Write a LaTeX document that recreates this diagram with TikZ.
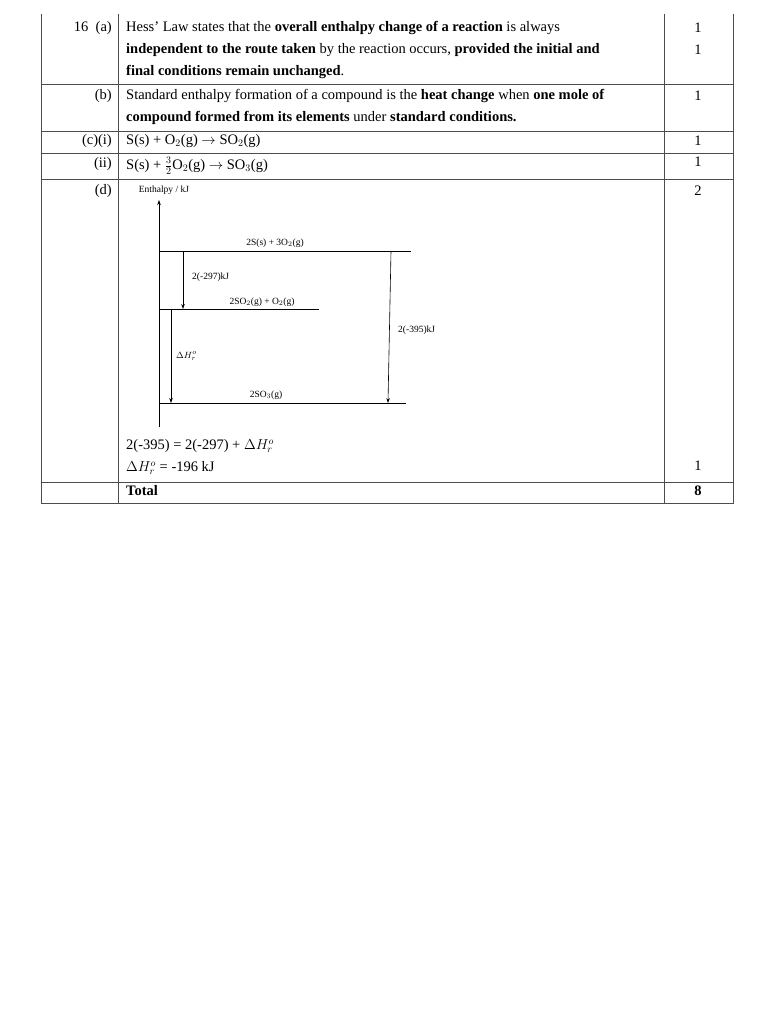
\documentclass[tikz,border=0pt]{standalone}
\usepackage{fontspec}
\setmainfont{Liberation Serif}
\usetikzlibrary{arrows.meta}
\begin{document}
\begin{tikzpicture}[x=1pt,y=-1pt,
  rule/.style={line width=0.6pt,black!70},
  txt/.style={anchor=west,inner sep=0pt,font=\fontsize{14.5}{16}\selectfont},
  mk/.style={inner sep=0pt,font=\fontsize{14.5}{16}\selectfont},
  sm/.style={inner sep=0pt,font=\fontsize{9.5}{11}\selectfont},
  lvl/.style={line width=0.6pt},
  arr/.style={line width=0.6pt,-{Stealth[length=5pt,width=3.5pt]}}]
\useasboundingbox (0,0) rectangle (768,1024);
% table
\draw[rule] (41,14) -- (41,503) -- (733,503) -- (733,14);
\draw[rule] (118,14) -- (118,503);
\draw[rule] (664,14) -- (664,503);
\foreach \y in {84,131,153,179,482} \draw[rule] (41,\y) -- (733,\y);
% labels column 1
\node[mk,anchor=east] (la) at (112,28) {16\ \ (a)};
\node[mk,anchor=east] (lb) at (112,96) {(b)};
\node[mk,anchor=east] (lc) at (112,141) {(c)(i)};
\node[mk,anchor=east] (lii) at (112,164) {(ii)};
\node[mk,anchor=east] (ld) at (112,191) {(d)};
% text
\node[txt] (a1) at (126,28) {Hess' Law states that the \textbf{overall enthalpy change of a reaction} is always};
\node[txt] (a2) at (126,50) {\textbf{independent to the route taken} by the reaction occurs, \textbf{provided the initial and}};
\node[txt] (a3) at (126,72) {\textbf{final conditions remain unchanged}.};
\node[txt] (b1) at (126,96) {Standard enthalpy formation of a compound is the \textbf{heat change} when \textbf{one mole of}};
\node[txt] (b2) at (126,118) {\textbf{compound formed from its elements} under \textbf{standard conditions.}};
\node[txt] (c1) at (126,141) {S(s) + O$_2$(g) $\rightarrow$ SO$_2$(g)};
\node[txt] (c2) at (126,166) {S(s) + $\frac{3}{2}$O$_2$(g) $\rightarrow$ SO$_3$(g)};
% marks
\foreach \n/\y/\t in {m1/28/1,m2/50/1,m3/96/1,m4/141/1,m5/162/1,m6/191/2,m7/466/1} \node[mk] (\n) at (698,\y) {\t};
\node[mk] (m8) at (698,491) {\textbf{8}};
% diagram
\node[sm] (ylab) at (164,190) {Enthalpy / kJ};
\coordinate (ax0) at (159,427);
\coordinate (ax1) at (159,200);
\draw[arr] (ax0) -- (ax1);
\coordinate (l1a) at (159,251); \coordinate (l1b) at (411,251);
\coordinate (l2a) at (159,309); \coordinate (l2b) at (319,309);
\coordinate (l3a) at (159,403); \coordinate (l3b) at (406,403);
\draw[lvl] (l1a) -- (l1b);
\draw[lvl] (l2a) -- (l2b);
\draw[lvl] (l3a) -- (l3b);
\node[sm] (t1) at (275,243) {2S(s) + 3O$_2$(g)};
\node[sm] (t2) at (262,302) {2SO$_2$(g) + O$_2$(g)};
\node[sm] (t3) at (266,395) {2SO$_3$(g)};
\coordinate (a1s) at (183,251); \coordinate (a1e) at (183,309);
\coordinate (a2s) at (171,309); \coordinate (a2e) at (171,403);
\coordinate (a3s) at (391,251); \coordinate (a3e) at (388,403);
\draw[arr] (a1s) -- (a1e);
\draw[arr] (a2s) -- (a2e);
\draw[arr] (a3s) -- (a3e);
\node[sm,anchor=west] (e1) at (192,277) {2(-297)kJ};
\node[sm,anchor=west] (e2) at (176,356) {$\Delta H_r^o$};
\node[sm,anchor=west] (e3) at (398,330) {2(-395)kJ};
\node[txt] (q1) at (126,446) {2(-395) = 2(-297) + $\Delta H_r^o$};
\node[txt] (q2) at (126,468) {$\Delta H_r^o$ = -196 kJ};
\node[txt] (tot) at (126,491) {\textbf{Total}};
\end{tikzpicture}
\end{document}
